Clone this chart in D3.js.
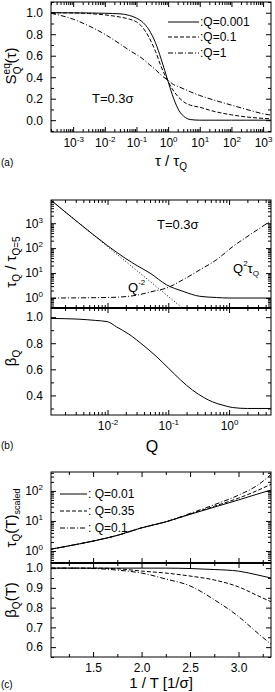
<!DOCTYPE html>
<html lang="en">
<head>
<meta charset="utf-8">
<title>relaxation panels</title>
<script src="https://cdnjs.cloudflare.com/ajax/libs/d3/7.8.5/d3.min.js"></script>
<style>
  body { margin: 0; background: #fff; }
  text { font-family: "Liberation Sans", Arial, sans-serif; fill: #000; }
</style>
</head>
<body>
<script>
// ---- panel (a): S_Q^eq(tau) vs tau / tau_Q
var tauA = [0.0002, 0.001, 0.003, 0.01, 0.03, 0.06, 0.1, 0.16, 0.25, 0.4, 0.6, 1, 1.5, 2.2, 3.5, 5, 10, 30, 100, 300, 1000, 1800];
var sQ0001 = [1.0, 0.999, 0.998, 0.995, 0.99, 0.975, 0.95, 0.91, 0.84, 0.72, 0.57, 0.36, 0.2, 0.09, 0.025, 0.006, 0.0, 0.0, 0.0, 0.0, 0.0, 0.0];
var sQ01 = [1.0, 0.998, 0.993, 0.98, 0.96, 0.94, 0.915, 0.86, 0.77, 0.64, 0.5, 0.36, 0.27, 0.21, 0.16, 0.14, 0.12, 0.08, 0.05, 0.03, 0.017, 0.013];
var sQ1 = [0.995, 0.94, 0.88, 0.8, 0.71, 0.65, 0.61, 0.57, 0.52, 0.47, 0.42, 0.37, 0.33, 0.31, 0.285, 0.265, 0.23, 0.185, 0.14, 0.1, 0.06, 0.047];
var legendA = [":Q=0.001", ":Q=0.1", ":Q=1"];

// ---- panel (b): tau_Q / tau_{Q=5} and beta_Q vs Q
var qSolidB = [0.00118, 0.00316, 0.01, 0.02, 0.0316, 0.05, 0.0933, 0.174, 0.331, 0.617, 1, 4.9];
var ratioB = [8300, 1150, 126, 38, 19, 10, 3.4, 1.86, 1.17, 1.05, 1.0, 1.0];
var qDashB = [0.00118, 0.01, 0.0263, 0.0562, 0.0933, 0.174, 0.331, 0.617, 1.15, 2.19, 4.9];
var q2TauB = [1, 1.05, 1.23, 1.86, 2.5, 5.4, 13.5, 34, 115, 340, 1250];
var qDotB = [0.00118, 0.2];
var qPowB = [8300, 0.29];
var qBetaB = [0.00118, 0.00316, 0.0063, 0.01, 0.0141, 0.0224, 0.0398, 0.0631, 0.1, 0.158, 0.251, 0.398, 0.537, 0.794, 1.15, 2, 4.9];
var betaB = [0.99, 0.985, 0.975, 0.965, 0.925, 0.87, 0.78, 0.7, 0.61, 0.52, 0.44, 0.38, 0.35, 0.325, 0.307, 0.3, 0.3];

// ---- panel (c): tau_Q(T)_scaled and beta_Q(T) vs 1/T
var invT = [1.066, 1.25, 1.5, 1.75, 2.0, 2.25, 2.5, 2.75, 3.0, 3.2, 3.335];
var tauQ001 = [1.15, 1.48, 2.14, 3.31, 5.89, 9.33, 16.6, 28.8, 50.1, 79.4, 107];
var tauQ035 = [1.15, 1.48, 2.14, 3.31, 5.89, 9.33, 17, 30.9, 57.5, 105, 166];
var tauQ01 = [1.15, 1.48, 2.14, 3.31, 5.89, 9.4, 17.8, 34.7, 72.4, 158, 355];
var betaQ001 = [1.0, 1.0, 1.0, 1.0, 1.0, 1.0, 0.998, 0.993, 0.985, 0.965, 0.95];
var betaQ035 = [1.0, 1.0, 1.0, 0.997, 0.985, 0.975, 0.96, 0.94, 0.905, 0.86, 0.83];
var betaQ01 = [1.0, 1.0, 0.998, 0.99, 0.975, 0.945, 0.91, 0.84, 0.755, 0.67, 0.615];
var legendC = [": Q=0.01", ": Q=0.35", ": Q=0.1"];
var ticksC = [1.5, 2.0, 2.5, 3.0];

var W = 275, H = 692;
var x0 = 51, x1 = 271;
var dashes = [null, "4,2", "5,2,1,2"];

var svg = d3.select("body").append("svg").attr("width", W).attr("height", H);

// helpers
function logMinor(lo, hi) {
    var out = [];
    for (var k = -6; k <= 6; k++) {
        for (var m = 2; m <= 9; m++) {
            var v = m * Math.pow(10, k);
            if (v >= lo && v <= hi) out.push(v);
        }
    }
    return out;
}
function decades(lo, hi) {
    var out = [];
    for (var k = -6; k <= 6; k++) {
        var v = Math.pow(10, k);
        if (v >= lo && v <= hi) out.push(v);
    }
    return out;
}
function stepVals(a, b, s) {
    var out = [];
    for (var v = a; v <= b + 1e-9; v += s) out.push(+v.toFixed(4));
    return out;
}
// one set of inside ticks; only values inside the scale's domain
function ticks(make, scale, tr, vals, size, fmt, pad) {
    var d = scale.domain(), lo = Math.min(d[0], d[1]), hi = Math.max(d[0], d[1]);
    var inside = vals.filter(function(v) { return v >= lo && v <= hi; });
    var ax = make(scale).tickValues(inside).tickSizeInner(size).tickSizeOuter(0)
        .tickPadding(pad || 5).tickFormat(fmt || "");
    var g = svg.append("g").attr("transform", tr).call(ax);
    g.select(".domain").remove();
    g.selectAll("line").attr("stroke", "#000").attr("stroke-width", 1);
    g.selectAll("text").attr("font-size", 12).attr("font-family", null).attr("fill", "#000");
    return g;
}
function supLabels(g) {
    g.selectAll(".tick text").text(null).each(function(d) {
        var t = d3.select(this);
        t.append("tspan").text("10");
        t.append("tspan").attr("dy", -5).attr("font-size", 8).text(Math.round(Math.log10(d)));
    });
}
function frame(ya, yb) {
    svg.append("rect").attr("x", x0).attr("y", ya).attr("width", x1 - x0).attr("height", yb - ya)
        .attr("fill", "none").attr("stroke", "#000").attr("stroke-width", 1);
}
// shared border between stacked sub-panels is drawn heavier
function divider(y) {
    svg.append("line").attr("x1", x0).attr("x2", x1).attr("y1", y).attr("y2", y)
        .attr("stroke", "#000").attr("stroke-width", 2);
}
var clipN = 0;
function clip(ya, yb) {
    var id = "clip" + (clipN++);
    svg.append("clipPath").attr("id", id).append("rect")
        .attr("x", x0).attr("y", ya).attr("width", x1 - x0).attr("height", yb - ya);
    return svg.append("g").attr("clip-path", "url(#" + id + ")");
}
function curve(g, xs, ys, xScale, yScale, dash) {
    var line = d3.line().x(function(d) { return xScale(d[0]); })
        .y(function(d) { return yScale(d[1]); }).curve(d3.curveMonotoneX);
    g.append("path").datum(xs.map(function(x, i) { return [x, ys[i]]; }))
        .attr("d", line).attr("fill", "none").attr("stroke", "#000").attr("stroke-width", 1)
        .attr("stroke-dasharray", dash);
}
function xyTicks(xScale, yScale, ya, yb, xMaj, xMin, yMaj, yMin, yFmt, xLabels, yLog) {
    // x ticks bottom + top
    var gb = ticks(d3.axisBottom, xScale, "translate(0," + yb + ")", xMaj, -5, xLabels, 6);
    ticks(d3.axisBottom, xScale, "translate(0," + yb + ")", xMin, -3);
    ticks(d3.axisTop, xScale, "translate(0," + ya + ")", xMaj, -5);
    ticks(d3.axisTop, xScale, "translate(0," + ya + ")", xMin, -3);
    // y ticks left + right
    var gl = ticks(d3.axisLeft, yScale, "translate(" + x0 + ",0)", yMaj, -5, yFmt, 8);
    ticks(d3.axisLeft, yScale, "translate(" + x0 + ",0)", yMin, -3);
    ticks(d3.axisRight, yScale, "translate(" + x1 + ",0)", yMaj, -5);
    ticks(d3.axisRight, yScale, "translate(" + x1 + ",0)", yMin, -3);
    if (yLog) supLabels(gl);
    return gb;
}
function rotLabel(x, y) {
    return svg.append("text").attr("transform", "translate(" + x + "," + y + ") rotate(-90)")
        .attr("text-anchor", "middle").attr("font-size", 15);
}

// ================= panel (a)
var xA = d3.scaleLog().domain([Math.pow(10, -3.7), Math.pow(10, 3.25)]).range([x0, x1]);
var yA = d3.scaleLinear().domain([-0.11, 1.1]).range([132, 2]);
var gA = clip(2, 132);
[sQ0001, sQ01, sQ1].forEach(function(s, i) { curve(gA, tauA, s, xA, yA, dashes[i]); });
frame(2, 132);
var axA = xyTicks(xA, yA, 2, 132, decades(1e-4, 2e3), logMinor(1e-4, 2e3),
    stepVals(0, 1, 0.2), [-0.1, 0.1, 0.3, 0.5, 0.7, 0.9, 1.1], d3.format(".1f"), function() { return "x"; });
supLabels(axA);

legendA.forEach(function(t, i) {
    var y = [22, 37, 53][i];
    svg.append("line").attr("x1", 168).attr("x2", 199).attr("y1", y).attr("y2", y)
        .attr("stroke", "#000").attr("stroke-dasharray", dashes[i]);
    svg.append("text").attr("x", 200).attr("y", y + 4).attr("font-size", 12).text(t);
});
svg.append("text").attr("x", 92).attr("y", 103).attr("font-size", 13).text("T=0.3\u03c3");

var la = rotLabel(16, 66);
la.append("tspan").text("S");
la.append("tspan").attr("font-size", 10).attr("dy", -6).text("eq");
la.append("tspan").attr("font-size", 10).attr("dx", -11).attr("dy", 11).text("Q");
la.append("tspan").attr("dx", 3).attr("dy", -5).text("(\u03c4)");

var xla = svg.append("text").attr("x", 171).attr("y", 166).attr("text-anchor", "middle").attr("font-size", 15);
xla.append("tspan").text("\u03c4 / \u03c4");
xla.append("tspan").attr("font-size", 10).attr("dy", 4).text("Q");
svg.append("text").attr("x", 1).attr("y", 166).attr("font-size", 10).text("(a)");

// ================= panel (b)
var xB = d3.scaleLog().domain([Math.pow(10, -2.93), Math.pow(10, 0.69)]).range([x0, x1]);
var yB1 = d3.scaleLog().domain([Math.pow(10, -0.4), Math.pow(10, 3.93)]).range([308, 200]);
var yB2 = d3.scaleLinear().domain([0.25, 1.07]).range([415, 308]);
var gB1 = clip(200, 308);
curve(gB1, qDotB, qPowB, xB, yB1, "1,2");
curve(gB1, qSolidB, ratioB, xB, yB1, null);
curve(gB1, qDashB, q2TauB, xB, yB1, "5,2,1,2");
var gB2 = clip(308, 415);
curve(gB2, qBetaB, betaB, xB, yB2, null);
frame(200, 308);
frame(308, 415);
divider(308);
xyTicks(xB, yB1, 200, 308, decades(1e-3, 10), logMinor(1e-3, 10),
    decades(0.1, 1e4), logMinor(0.1, 1e4), function() { return "x"; }, "", true);
var axB = xyTicks(xB, yB2, 308, 415, decades(1e-3, 10), logMinor(1e-3, 10),
    [0.4, 0.6, 0.8, 1.0], [0.3, 0.5, 0.7, 0.9], d3.format(".1f"), function() { return "x"; });
supLabels(axB);

svg.append("text").attr("x", 157).attr("y", 229).attr("font-size", 13).text("T=0.3\u03c3");
var tq = svg.append("text").attr("x", 128).attr("y", 292).attr("font-size", 13);
tq.append("tspan").text("Q");
tq.append("tspan").attr("font-size", 8).attr("dy", -7).text("-2");
var tq2 = svg.append("text").attr("x", 233).attr("y", 273).attr("font-size", 13).attr("fill", "#000");
tq2.append("tspan").attr("fill", "#000").text("Q");
tq2.append("tspan").attr("fill", "#000").attr("font-size", 8).attr("dy", -7).text("2");
tq2.append("tspan").attr("fill", "#000").attr("dy", 7).text("\u03c4");
tq2.append("tspan").attr("fill", "#000").attr("font-size", 8).attr("dy", 3).text("Q");

var lb = rotLabel(16, 262);
lb.append("tspan").text("\u03c4");
lb.append("tspan").attr("font-size", 10).attr("dy", 4).text("Q");
lb.append("tspan").attr("dy", -4).text(" / \u03c4");
lb.append("tspan").attr("font-size", 10).attr("dy", 4).text("Q=5");
var lb2 = rotLabel(16, 358);
lb2.append("tspan").text("\u03b2");
lb2.append("tspan").attr("font-size", 10).attr("dy", 4).text("Q");

svg.append("text").attr("x", 152).attr("y", 452).attr("text-anchor", "middle").attr("font-size", 16).text("Q");
svg.append("text").attr("x", 1).attr("y", 449).attr("font-size", 10).text("(b)");

// ================= panel (c)
var xC = d3.scaleLinear().domain([1.066, 3.335]).range([x0, x1]);
var yC1 = d3.scaleLog().domain([Math.pow(10, -0.4), Math.pow(10, 2.63)]).range([563, 472]);
var yC2 = d3.scaleLinear().domain([0.55, 1.026]).range([657, 563]);
var gC1 = clip(472, 563);
[tauQ001, tauQ035, tauQ01].forEach(function(s, i) { curve(gC1, invT, s, xC, yC1, dashes[i]); });
var gC2 = clip(563, 657);
[betaQ001, betaQ035, betaQ01].forEach(function(s, i) { curve(gC2, invT, s, xC, yC2, dashes[i]); });
frame(472, 563);
frame(563, 657);
divider(563);
var minorC = [1.25, 1.75, 2.25, 2.75, 3.25];
xyTicks(xC, yC1, 472, 563, ticksC, minorC, decades(0.1, 1e3), logMinor(0.1, 1e3),
    function() { return "x"; }, "", true);
xyTicks(xC, yC2, 563, 657, ticksC, minorC, [0.6, 0.7, 0.8, 0.9, 1.0], [0.55, 0.65, 0.75, 0.85, 0.95],
    d3.format(".1f"), d3.format(".1f"));

legendC.forEach(function(t, i) {
    var y = [494, 511, 528][i];
    svg.append("line").attr("x1", 60).attr("x2", 87).attr("y1", y).attr("y2", y)
        .attr("stroke", "#000").attr("stroke-dasharray", dashes[i]);
    svg.append("text").attr("x", 88).attr("y", y + 4).attr("font-size", 12).text(t);
});

var lc = rotLabel(16, 518);
lc.append("tspan").text("\u03c4");
lc.append("tspan").attr("font-size", 10).attr("dy", 4).text("Q");
lc.append("tspan").attr("dy", -4).text("(T)");
lc.append("tspan").attr("font-size", 9).attr("dy", 4).text("scaled");
var lc2 = rotLabel(16, 600);
lc2.append("tspan").text("\u03b2");
lc2.append("tspan").attr("font-size", 10).attr("dy", 4).text("Q");
lc2.append("tspan").attr("dy", -4).text("(T)");

svg.append("text").attr("x", 161).attr("y", 688).attr("text-anchor", "middle").attr("font-size", 15).text("1 / T [1/\u03c3]");
svg.append("text").attr("x", 1).attr("y", 688).attr("font-size", 10).text("(c)");
</script>
</body>
</html>
